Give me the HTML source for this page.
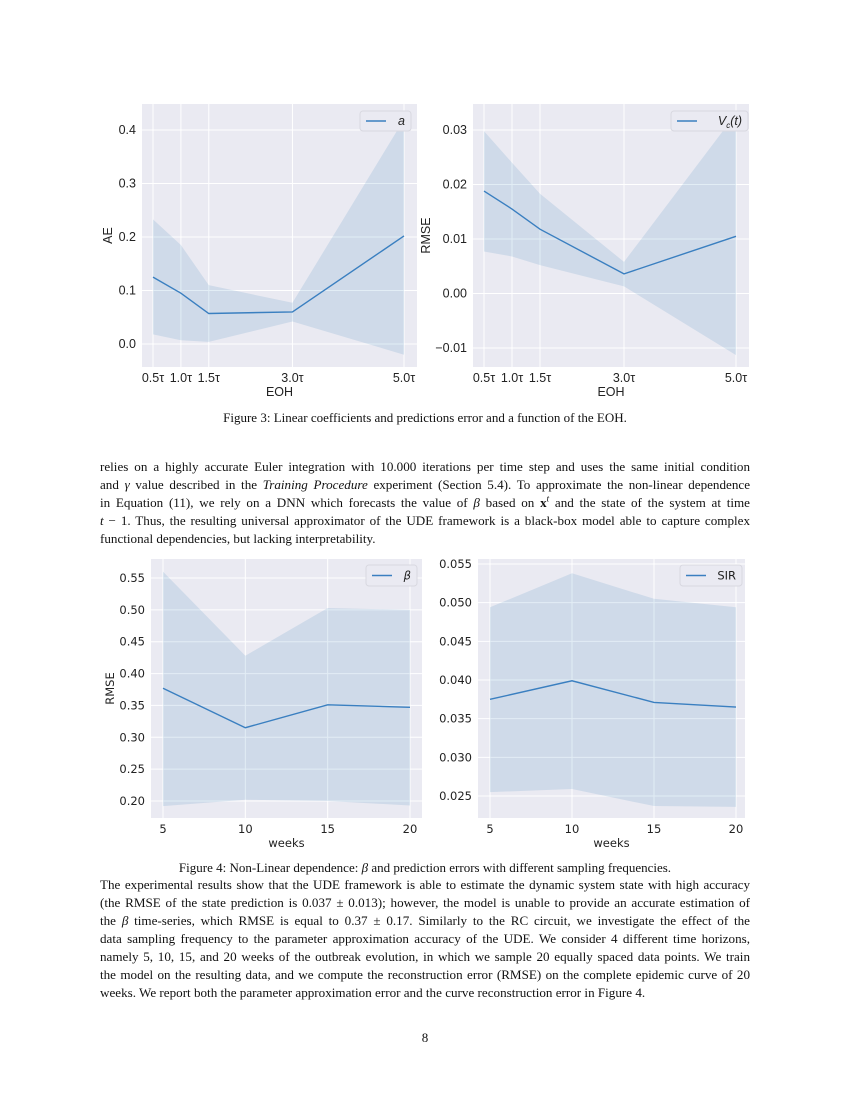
<!DOCTYPE html>
<html><head><meta charset="utf-8">
<style>
body{margin:0;background:#fff;}
#pg{position:relative;width:850px;height:1100px;background:#fff;overflow:hidden;font-family:"Liberation Serif",serif;color:#111;}
.ln{position:absolute;left:100px;width:650px;font-size:13.1px;line-height:14px;text-align:justify;text-align-last:justify;white-space:nowrap;}
.ln.last{text-align-last:left;}
.cap{position:absolute;left:0;width:850px;text-align:center;font-size:13px;}
svg{position:absolute;left:0;top:0;}
svg text{font-family:"DejaVu Sans","Liberation Sans",sans-serif;font-size:11.5px;fill:#222;}
svg text.t{font-family:"Liberation Sans",sans-serif;font-size:12.5px;}
</style></head><body><div id="pg">
<svg id="s" width="850" height="1100"></svg>
<div class="cap" style="top:410px">Figure 3: Linear coefficients and predictions error and a function of the EOH.</div>
<div class="ln" style="top:460px">relies on a highly accurate Euler integration with 10.000 iterations per time step and uses the same initial condition</div>
<div class="ln" style="top:478px">and <i>γ</i> value described in the <i>Training Procedure</i> experiment (Section 5.4). To approximate the non-linear dependence</div>
<div class="ln" style="top:496px">in Equation (11), we rely on a DNN which forecasts the value of <i>β</i> based on <b>x</b><sup style="font-size:9px;line-height:0"><i>t</i></sup> and the state of the system at time</div>
<div class="ln" style="top:514px"><i>t</i> − 1. Thus, the resulting universal approximator of the UDE framework is a black-box model able to capture complex</div>
<div class="ln last" style="top:532px">functional dependencies, but lacking interpretability.</div>
<div class="cap" style="top:860px">Figure 4: Non-Linear dependence: <i>β</i> and prediction errors with different sampling frequencies.</div>
<div class="ln" style="top:878px">The experimental results show that the UDE framework is able to estimate the dynamic system state with high accuracy</div>
<div class="ln" style="top:896px">(the RMSE of the state prediction is 0.037 ± 0.013); however, the model is unable to provide an accurate estimation of</div>
<div class="ln" style="top:914px">the <i>β</i> time-series, which RMSE is equal to 0.37 ± 0.17. Similarly to the RC circuit, we investigate the effect of the</div>
<div class="ln" style="top:932px">data sampling frequency to the parameter approximation accuracy of the UDE. We consider 4 different time horizons,</div>
<div class="ln" style="top:950px">namely 5, 10, 15, and 20 weeks of the outbreak evolution, in which we sample 20 equally spaced data points. We train</div>
<div class="ln" style="top:968px">the model on the resulting data, and we compute the reconstruction error (RMSE) on the complete epidemic curve of 20</div>
<div class="ln last" style="top:986px">weeks. We report both the parameter approximation error and the curve reconstruction error in Figure 4.</div>
<div class="cap" style="top:1030px">8</div>
</div>
<script>
const S=document.getElementById('s');let h='';
function chart(c){
 const cl=c.cls?` class="${c.cls}"`:'';
 const X=v=>c.xa[1]+(v-c.xa[0])*(c.xb[1]-c.xa[1])/(c.xb[0]-c.xa[0]);
 const Y=v=>c.ya[1]+(v-c.ya[0])*(c.yb[1]-c.ya[1])/(c.yb[0]-c.ya[0]);
 h+=`<rect x="${c.L}" y="${c.T}" width="${c.R-c.L}" height="${c.B-c.T}" fill="#eaeaf2"/>`;
 c.yt.forEach(t=>{const y=Y(t[0]);h+=`<line x1="${c.L}" x2="${c.R}" y1="${y}" y2="${y}" stroke="#fff" stroke-width="1"/><text${cl} x="${c.L-6}" y="${y+4}" text-anchor="end">${t[1]}</text>`;});
 c.xt.forEach(t=>{const x=X(t[0]);h+=`<line y1="${c.T}" y2="${c.B}" x1="${x}" x2="${x}" stroke="#fff" stroke-width="1"/><text${cl} x="${x}" y="${c.B+15}" text-anchor="middle">${t[1]}</text>`;});
 let up=c.x.map((v,i)=>X(v)+','+Math.max(c.T,Y(c.u[i]))).join(' ');
 let lo=c.x.map((v,i)=>X(v)+','+Y(c.l[i])).reverse().join(' ');
 h+=`<polygon points="${up} ${lo}" fill="#1f77b4" fill-opacity="0.13"/>`;
 h+=`<polyline points="${c.x.map((v,i)=>X(v)+','+Y(c.m[i])).join(' ')}" fill="none" stroke="#3a7fc0" stroke-width="1.4"/>`;
 h+=`<text${cl} x="${(c.L+c.R)/2}" y="${c.B+29}" text-anchor="middle">${c.xl}</text>`;
 h+=`<text${cl} transform="translate(${c.yx},${(c.T+c.B)/2}) rotate(-90)" text-anchor="middle">${c.yl}</text>`;
 const g=c.lg;h+=`<rect x="${g[0]}" y="${g[1]}" width="${g[2]}" height="${g[3]}" rx="3" fill="#eaeaf2" stroke="#d8d8e0"/><line x1="${g[0]+6}" x2="${g[0]+26}" y1="${g[1]+g[3]/2}" y2="${g[1]+g[3]/2}" stroke="#3a7fc0" stroke-width="1.4"/><text${cl} x="${g[0]+g[2]-6}" y="${g[1]+g[3]/2+4}" text-anchor="end" font-style="italic">${c.ln}</text>`;
}
const tx=[[0.5,'0.5τ'],[1,'1.0τ'],[1.5,'1.5τ'],[3,'3.0τ'],[5,'5.0τ']];
chart({cls:'t',L:142,R:417,T:104,B:367,xa:[0.5,153],xb:[5,404],ya:[0.4,130],yb:[0,344],
 yt:[[0,'0.0'],[0.1,'0.1'],[0.2,'0.2'],[0.3,'0.3'],[0.4,'0.4']],xt:tx,
 x:[0.5,1,1.5,3,5],m:[0.125,0.095,0.057,0.06,0.202],u:[0.233,0.185,0.11,0.077,0.42],l:[0.018,0.007,0.004,0.042,-0.02],
 xl:'EOH',yl:'AE',yx:112,lg:[360,111,51,20],ln:'a'});
chart({cls:'t',L:473,R:749,T:104,B:367,xa:[0.5,484],xb:[5,736],ya:[0.03,130],yb:[-0.01,348],
 yt:[[-0.01,'−0.01'],[0,'0.00'],[0.01,'0.01'],[0.02,'0.02'],[0.03,'0.03']],xt:tx,
 x:[0.5,1,1.5,3,5],m:[0.0188,0.0155,0.0118,0.0036,0.0105],u:[0.0298,0.024,0.0183,0.0058,0.033],l:[0.0077,0.0068,0.0052,0.0013,-0.0113],
 xl:'EOH',yl:'RMSE',yx:430,lg:[671,111,77,20],ln:'V<tspan font-size="8" dy="3">c</tspan><tspan dy="-3">(t)</tspan>'});
chart({L:151,R:422,T:559,B:818,xa:[5,163],xb:[20,410],ya:[0.55,578],yb:[0.2,801],
 yt:[[0.2,'0.20'],[0.25,'0.25'],[0.3,'0.30'],[0.35,'0.35'],[0.4,'0.40'],[0.45,'0.45'],[0.5,'0.50'],[0.55,'0.55']],xt:[[5,'5'],[10,'10'],[15,'15'],[20,'20']],
 x:[5,10,15,20],m:[0.377,0.315,0.351,0.347],u:[0.56,0.428,0.503,0.5],l:[0.192,0.202,0.2,0.193],
 xl:'weeks',yl:'RMSE',yx:114,lg:[366,565,51,21],ln:'β'});
chart({L:478,R:745,T:559,B:818,xa:[5,490],xb:[20,736],ya:[0.055,564],yb:[0.025,796],
 yt:[[0.025,'0.025'],[0.03,'0.030'],[0.035,'0.035'],[0.04,'0.040'],[0.045,'0.045'],[0.05,'0.050'],[0.055,'0.055']],xt:[[5,'5'],[10,'10'],[15,'15'],[20,'20']],
 x:[5,10,15,20],m:[0.0375,0.0399,0.0371,0.0365],u:[0.0494,0.0538,0.0505,0.0494],l:[0.0255,0.0259,0.0237,0.0236],
 xl:'weeks',yl:'',yx:440,lg:[680,565,62,21],ln:'<tspan font-style="normal">SIR</tspan>'});
S.innerHTML=h;
</script>
</body></html>
